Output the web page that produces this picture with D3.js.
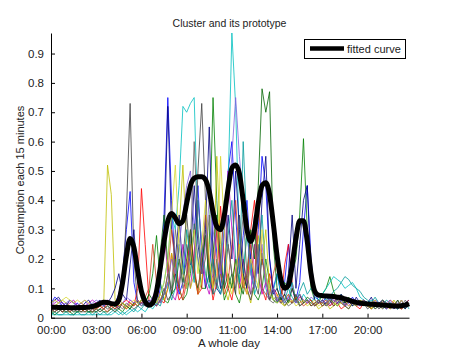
<!DOCTYPE html>
<html><head><meta charset="utf-8">
<script src="https://cdn.jsdelivr.net/npm/d3@7"></script>
<style>
html,body{margin:0;padding:0;background:#fff;}
svg{display:block;font-family:"Liberation Sans",Arial,sans-serif;}
</style></head>
<body>
<svg id="chart" width="450" height="354"></svg>
<script>
// ---- data ----
const title = "Cluster and its prototype";
const xLabel = "A whole day";
const yLabel = "Consumption each 15 minutes";
const legendLabel = "fitted curve";
const tickIndex = [0, 12, 24, 36, 48, 60, 72, 84];
const tickLabels = ["00:00","03:00","06:00","09:00","11:00","14:00","17:00","20:00"];
const yTicks = [0,0.1,0.2,0.3,0.4,0.5,0.6,0.7,0.8,0.9];
const seriesColors = ["#0000ff","#008000","#ff0000","#00bfbf","#bf00bf","#bfbf00","#404040",
                      "#000080","#006400","#d04020","#009999","#8060e0","#d8d830","#666666"];

const s1 = [.05,.07,.06,.04,.05,.03,.04,.05,.03,.04,.03,.04,
 .05,.04,.06,.05,.04,.05,.08,.15,.30,.43,.12,.05,
 .05,.04,.06,.05,.04,.10,.35,.75,.40,.15,.08,.12,
 .25,.18,.30,.45,.20,.10,.15,.35,.22,.10,.30,.50,
 .60,.35,.15,.28,.40,.20,.12,.30,.55,.45,.20,.10,
 .15,.08,.12,.25,.10,.06,.12,.30,.45,.20,.08,.06,
 .05,.07,.06,.08,.05,.06,.04,.05,.07,.05,.04,.06,
 .05,.04,.06,.05,.03,.04,.05,.04,.03,.04,.05,.06];
const s2 = [.02,.02,.03,.02,.02,.03,.02,.02,.03,.02,.02,.02,
 .03,.02,.03,.04,.03,.02,.03,.02,.04,.03,.05,.04,
 .06,.05,.08,.15,.28,.12,.06,.05,.08,.20,.10,.06,
 .08,.15,.32,.20,.10,.10,.25,.75,.40,.15,.06,.10,
 .15,.08,.05,.12,.30,.18,.08,.06,.10,.20,.12,.06,
 .05,.08,.12,.10,.15,.20,.35,.61,.30,.10,.06,.05,
 .08,.10,.14,.09,.06,.08,.05,.06,.04,.05,.06,.04,
 .05,.03,.04,.05,.04,.03,.05,.04,.06,.04,.03,.05];
const s3 = [.03,.04,.03,.02,.03,.04,.03,.03,.02,.03,.04,.03,
 .03,.04,.03,.05,.04,.03,.04,.05,.06,.05,.04,.10,
 .44,.25,.06,.05,.04,.06,.05,.10,.22,.12,.06,.08,
 .15,.30,.18,.08,.10,.28,.15,.06,.12,.38,.20,.10,
 .06,.15,.25,.12,.08,.30,.40,.22,.10,.06,.15,.10,
 .08,.05,.18,.25,.12,.06,.08,.05,.06,.04,.05,.06,
 .04,.05,.06,.04,.05,.03,.04,.06,.05,.04,.03,.05,
 .04,.03,.05,.04,.06,.04,.03,.05,.04,.03,.04,.05];
const s4 = [.01,.01,.01,.01,.01,.01,.01,.01,.01,.01,.01,.01,
 .01,.01,.01,.01,.01,.02,.01,.02,.01,.02,.03,.02,
 .03,.02,.04,.03,.05,.08,.12,.20,.35,.30,.45,.72,
 .70,.73,.75,.30,.15,.35,.15,.08,.10,.20,.30,.45,
 .97,.72,.25,.15,.30,.18,.08,.12,.22,.10,.06,.09,
 .15,.08,.05,.07,.12,.06,.05,.08,.06,.05,.07,.06,
 .08,.10,.12,.14,.13,.12,.10,.11,.12,.10,.07,.06,
 .05,.06,.04,.05,.04,.03,.04,.05,.03,.04,.05,.04];
const s5 = [.04,.05,.06,.05,.04,.05,.06,.04,.05,.04,.05,.06,
 .05,.04,.05,.06,.04,.05,.03,.05,.04,.06,.05,.04,
 .05,.06,.04,.07,.10,.20,.30,.15,.08,.06,.12,.25,
 .18,.10,.22,.40,.25,.12,.08,.15,.30,.18,.10,.50,
 .30,.15,.10,.20,.12,.08,.25,.15,.08,.12,.06,.10,
 .06,.05,.08,.06,.10,.05,.07,.06,.05,.06,.04,.05,
 .06,.05,.04,.06,.05,.07,.05,.04,.06,.05,.04,.05,
 .04,.05,.06,.04,.05,.03,.04,.05,.04,.06,.04,.05];
const s6 = [.03,.04,.05,.06,.05,.04,.03,.04,.05,.04,.03,.04,
 .03,.05,.05,.52,.42,.06,.04,.05,.03,.04,.05,.04,
 .06,.05,.04,.06,.05,.08,.06,.10,.22,.15,.30,.52,
 .25,.10,.15,.08,.12,.30,.18,.10,.55,.25,.10,.06,
 .12,.20,.08,.15,.10,.05,.12,.28,.18,.30,.10,.06,
 .08,.05,.04,.06,.05,.07,.04,.05,.06,.04,.05,.03,
 .04,.05,.03,.04,.06,.05,.04,.03,.05,.04,.06,.05,
 .04,.03,.05,.04,.03,.05,.04,.06,.04,.03,.05,.04];
const s7 = [.03,.02,.03,.02,.03,.02,.03,.02,.03,.03,.02,.03,
 .02,.03,.04,.03,.04,.05,.05,.10,.35,.73,.20,.05,
 .06,.04,.05,.06,.08,.05,.10,.06,.08,.15,.10,.20,
 .35,.20,.15,.50,.73,.40,.15,.08,.20,.10,.12,.25,
 .15,.08,.35,.20,.10,.06,.12,.08,.20,.15,.06,.10,
 .05,.07,.04,.06,.05,.08,.04,.05,.06,.04,.05,.06,
 .04,.05,.06,.04,.05,.07,.04,.03,.05,.06,.04,.05,
 .03,.04,.05,.03,.04,.05,.03,.04,.06,.03,.04,.05];
const s8 = [.05,.06,.07,.05,.04,.06,.05,.04,.03,.05,.06,.04,
 .05,.06,.04,.05,.07,.10,.15,.08,.06,.18,.30,.12,
 .08,.05,.06,.04,.07,.12,.25,.72,.30,.20,.35,.15,
 .10,.20,.45,.25,.15,.30,.65,.20,.10,.08,.15,.35,
 .20,.50,.30,.15,.10,.20,.35,.15,.40,.55,.20,.08,
 .10,.06,.08,.15,.35,.10,.25,.40,.45,.15,.06,.05,
 .06,.04,.05,.07,.06,.08,.05,.06,.04,.07,.05,.06,
 .05,.07,.04,.05,.06,.04,.05,.03,.04,.06,.03,.05];
const s9 = [.02,.01,.02,.03,.02,.02,.01,.02,.02,.03,.02,.02,
 .02,.03,.02,.02,.03,.04,.03,.05,.04,.03,.05,.06,
 .04,.05,.08,.06,.10,.22,.35,.18,.08,.10,.20,.12,
 .20,.30,.15,.10,.18,.28,.12,.22,.35,.20,.10,.15,
 .10,.20,.12,.08,.15,.30,.20,.45,.78,.70,.77,.25,
 .10,.06,.08,.05,.10,.06,.08,.05,.07,.06,.04,.05,
 .06,.05,.07,.05,.04,.06,.05,.07,.05,.04,.06,.05,
 .04,.05,.03,.04,.06,.05,.04,.05,.03,.04,.05,.04];
const s10 = [.03,.02,.03,.04,.03,.02,.03,.04,.03,.02,.03,.02,
 .03,.04,.03,.02,.04,.03,.05,.04,.03,.05,.04,.06,
 .05,.07,.10,.25,.12,.06,.08,.15,.30,.18,.10,.06,
 .12,.25,.15,.08,.20,.35,.18,.10,.30,.15,.08,.12,
 .25,.40,.20,.10,.15,.25,.12,.40,.20,.12,.08,.15,
 .20,.10,.06,.08,.05,.07,.06,.04,.05,.06,.04,.05,
 .05,.06,.04,.05,.07,.05,.04,.06,.05,.04,.05,.06,
 .04,.05,.06,.04,.05,.04,.06,.05,.04,.03,.05,.06];
const s11 = [.01,.02,.01,.01,.02,.01,.01,.02,.01,.01,.02,.01,
 .02,.01,.02,.01,.02,.03,.02,.01,.02,.03,.02,.04,
 .03,.05,.04,.06,.05,.04,.08,.12,.06,.10,.25,.15,
 .30,.20,.12,.40,.25,.15,.10,.20,.12,.08,.15,.28,
 .40,.20,.12,.60,.30,.15,.10,.20,.35,.15,.08,.06,
 .05,.08,.06,.10,.07,.05,.09,.12,.08,.10,.08,.07,
 .08,.06,.07,.09,.10,.12,.14,.13,.11,.10,.09,.07,
 .06,.05,.07,.05,.04,.06,.05,.04,.03,.04,.05,.03];
const s12 = [.04,.06,.05,.04,.05,.06,.05,.04,.05,.06,.04,.05,
 .06,.05,.04,.06,.05,.04,.06,.05,.07,.06,.05,.06,
 .04,.06,.05,.07,.06,.05,.08,.12,.20,.15,.25,.35,
 .45,.50,.30,.20,.15,.25,.40,.30,.20,.15,.30,.40,
 .55,.75,.55,.40,.30,.15,.10,.20,.25,.12,.08,.10,
 .06,.08,.05,.07,.06,.05,.08,.06,.05,.07,.06,.05,
 .06,.05,.07,.06,.05,.06,.04,.05,.06,.05,.04,.05,
 .05,.04,.06,.05,.04,.05,.06,.04,.05,.04,.05,.04];
const s13 = [.05,.06,.05,.06,.07,.06,.05,.06,.05,.06,.05,.04,
 .05,.04,.06,.05,.04,.05,.06,.05,.04,.05,.06,.05,
 .06,.05,.04,.06,.05,.08,.12,.20,.35,.52,.25,.15,
 .10,.20,.30,.15,.25,.40,.20,.10,.15,.55,.30,.12,
 .08,.15,.25,.12,.08,.20,.15,.10,.30,.15,.08,.06,
 .05,.06,.04,.05,.06,.04,.05,.06,.04,.05,.06,.04,
 .05,.04,.06,.05,.04,.05,.06,.04,.05,.04,.06,.05,
 .04,.05,.06,.04,.05,.04,.03,.05,.04,.06,.04,.05];
const s14 = [.02,.03,.02,.03,.02,.03,.02,.03,.02,.02,.03,.02,
 .03,.02,.03,.04,.03,.02,.04,.03,.05,.04,.03,.04,
 .05,.04,.06,.05,.04,.06,.08,.15,.10,.30,.20,.10,
 .15,.25,.60,.30,.15,.20,.35,.15,.10,.20,.40,.25,
 .15,.10,.20,.35,.15,.08,.12,.25,.10,.08,.06,.05,
 .07,.05,.06,.04,.05,.06,.04,.05,.06,.05,.04,.06,
 .05,.04,.06,.05,.07,.05,.04,.06,.05,.04,.05,.06,
 .04,.05,.03,.04,.06,.05,.04,.05,.03,.04,.06,.04];
const fitted = [.036,.036,.035,.035,.035,.034,.034,.034,.035,.035,.036,.038,
 .042,.048,.053,.052,.048,.047,.06,.12,.21,.27,.24,.16,
 .09,.055,.042,.05,.09,.17,.26,.33,.355,.34,.32,.33,
 .39,.45,.475,.48,.48,.47,.43,.36,.31,.30,.35,.44,
 .51,.52,.49,.40,.30,.26,.30,.39,.45,.46,.42,.32,
 .21,.13,.10,.11,.18,.27,.33,.33,.26,.15,.09,.077,
 .075,.074,.073,.072,.07,.068,.064,.06,.056,.052,.05,.048,
 .047,.046,.045,.044,.043,.042,.041,.040,.040,.041,.043,.048];
const series = [s1,s2,s3,s4,s5,s6,s7,s8,s9,s10,s11,s12,s13,s14];

// ---- layout ----
const svg = d3.select("#chart");
const mLeft = 51, mRight = 409, mTop = 33, mBottom = 317.7;
const x = d3.scaleLinear().domain([0, 95]).range([mLeft, mRight]);
const y = d3.scaleLinear().domain([0, 0.97]).range([mBottom, mTop]);
const line = d3.line().x((d, i) => x(i)).y(d => y(d));

const g = svg.append("g");
series.forEach((s, k) => {
  g.append("path").datum(s)
    .attr("d", line)
    .attr("fill", "none")
    .attr("stroke", seriesColors[k])
    .attr("stroke-width", 0.8);
});
g.append("path").datum(fitted)
  .attr("d", d3.line().x((d, i) => x(i)).y(d => y(d)).curve(d3.curveMonotoneX))
  .attr("fill", "none")
  .attr("stroke", "#000")
  .attr("stroke-width", 5)
  .attr("stroke-linejoin", "round");

// axes (MATLAB style: ticks inward, no box)
const xAxis = d3.axisBottom(x).tickValues(tickIndex)
  .tickFormat((d, i) => tickLabels[i]).tickSizeInner(-4).tickSizeOuter(0).tickPadding(8);
const yAxis = d3.axisLeft(y).tickValues(yTicks)
  .tickFormat(d => d === 0 ? "0" : d3.format(".1f")(d)).tickSizeInner(-4).tickSizeOuter(0).tickPadding(7);

const gx = svg.append("g").attr("transform", `translate(0,${mBottom})`).call(xAxis);
const gy = svg.append("g").attr("transform", `translate(${mLeft},0)`).call(yAxis);
[gx, gy].forEach(a => {
  a.select(".domain").attr("stroke", "#000").attr("stroke-width", 1);
  a.selectAll(".tick line").attr("stroke", "#000");
  a.selectAll("text").attr("fill", "#222").style("font-size", "11.5px")
   .style("font-family", '"Liberation Sans", Arial, sans-serif');
});

svg.append("text").attr("x", 229.5).attr("y", 27).attr("text-anchor", "middle")
  .style("font-size", "10.5px").attr("fill", "#222").text(title);
svg.append("text").attr("x", 229).attr("y", 347).attr("text-anchor", "middle")
  .style("font-size", "11.5px").attr("fill", "#222").text(xLabel);
svg.append("text").attr("transform", "translate(24,180) rotate(-90)").attr("text-anchor", "middle")
  .style("font-size", "11px").attr("fill", "#222").text(yLabel);

// legend
const lg = svg.append("g");
lg.append("rect").attr("x", 304.5).attr("y", 39.5).attr("width", 101).attr("height", 19)
  .attr("fill", "#fff").attr("stroke", "#000").attr("stroke-width", 1);
lg.append("line").attr("x1", 310).attr("x2", 344).attr("y1", 48.5).attr("y2", 48.5)
  .attr("stroke", "#000").attr("stroke-width", 4.5);
lg.append("text").attr("x", 347).attr("y", 52.5).style("font-size", "11px")
  .attr("fill", "#222").text(legendLabel);
</script>
</body></html>
